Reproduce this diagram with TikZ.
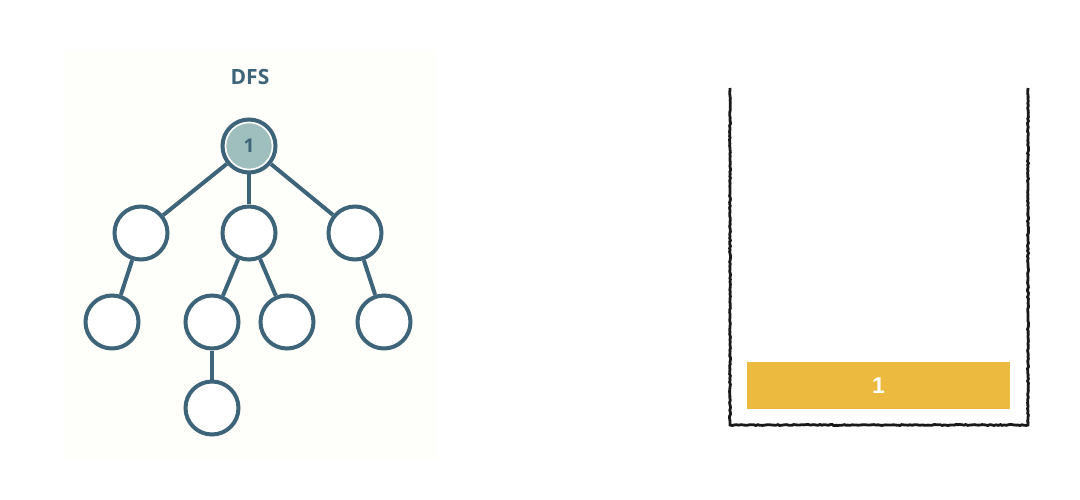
\documentclass[tikz,border=0pt]{standalone}
\usepackage{fontspec}
\setmainfont{Open Sans}
\setsansfont{Liberation Sans}
\usetikzlibrary{decorations.pathmorphing}
\definecolor{treeblue}{HTML}{3E6479}
\definecolor{rootfill}{HTML}{9EBFBE}
\definecolor{panelbg}{HTML}{FEFEFA}
\definecolor{stackyellow}{HTML}{EDBA40}
\tikzstyle{vert}=[circle,draw=treeblue,line width=4pt,fill=white,minimum size=53pt,inner sep=0pt]
\tikzstyle{branch}=[draw=treeblue,line width=4pt]
\tikzstyle{wall}=[draw=black!90,line width=2.8pt,decorate,
  decoration={random steps,segment length=2pt,amplitude=0.5pt}]

\begin{document}
\begin{tikzpicture}[x=1pt,y=-1pt]
  \useasboundingbox (0,0) rectangle (1080,500);
  % tree panel
  \fill[panelbg] (63,50) rectangle (437,460);
  \node[text=treeblue,font=\bfseries\fontsize{21}{21}\selectfont] (title) at (250,77) {DFS};
  \node[vert,fill=rootfill,text=treeblue,font=\bfseries\fontsize{19}{19}\selectfont] (r) at (249,146) {1};
  \draw[white,line width=1.5pt] (r.center) circle (23.5pt);
  \node[vert] (a) at (141,233) {};
  \node[vert] (b) at (249,233) {};
  \node[vert] (c) at (355,233) {};
  \node[vert] (aa) at (112,322) {};
  \node[vert] (ba) at (212,322) {};
  \node[vert] (bb) at (287,322) {};
  \node[vert] (ca) at (384,322) {};
  \node[vert] (baa) at (212,408) {};
  \foreach \p/\c in {r/a,r/b,r/c,a/aa,b/ba,b/bb,c/ca,ba/baa}
    \draw[branch] (\p) -- (\c);
  % stack
  \coordinate (tl) at (730,88);
  \coordinate (bl) at (730,425);
  \coordinate (br) at (1028,425);
  \coordinate (tr) at (1028,88);
  \draw[wall] (tl) -- (bl) -- (br) -- (tr);
  \node[fill=stackyellow,minimum width=263pt,minimum height=47pt,inner sep=0pt,
    text=white,font=\sffamily\bfseries\fontsize{23}{23}\selectfont] (top) at (878.5,385.5) {1};
\end{tikzpicture}
\end{document}
